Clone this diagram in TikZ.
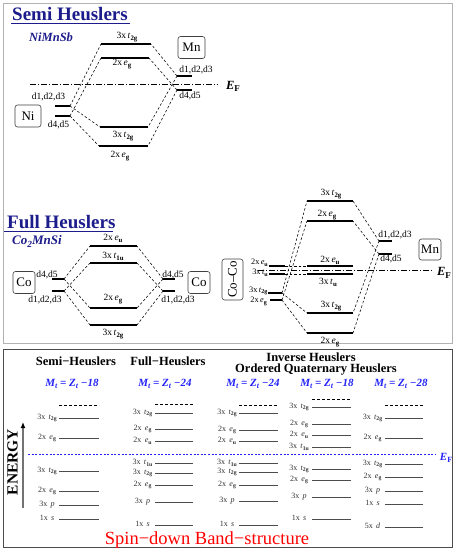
\documentclass[tikz,border=0pt]{standalone}
\usepackage{fontspec}
\setmainfont{Liberation Serif}
\usetikzlibrary{arrows.meta}
\definecolor{navy}{RGB}{28,28,140}
\definecolor{fblue}{RGB}{35,35,250}
\newcommand\fsz[1]{\fontsize{#1}{#1}\selectfont}
\newcommand\sbs[1]{\raisebox{-0.45ex}{\scalebox{0.72}{\bfseries #1}}}
\newcommand\lvlab[3]{#1x\,\textit{#2}\sbs{#3}}
\newcommand\blab[3]{#1x\ \,\textit{#2}\sbs{#3}}
\newcommand\EF{\textbf{\textit{E}}\sbs{F}}
\newcommand\lv[5][lev]{\coordinate (#2-l) at (#3,#5); \coordinate (#2-r) at (#4,#5); \draw[#1] (#2-l) -- (#2-r);}
\newcommand\blv[6]{\coordinate (#1-l) at (#2,#4); \coordinate (#1-r) at (#3,#4); \draw[blev] (#1-l) -- (#1-r); \node[blbl] (#1-t) at (#5,#4) {#6};}
\begin{document}
\begin{tikzpicture}[x=1pt,y=-1pt,
  lev/.style={line width=1.3pt},
  con/.style={dash pattern=on 2.5pt off 2pt, line width=0.55pt},
  efl/.style={dash pattern=on 6pt off 2pt on 1pt off 2pt, line width=0.55pt},
  elbox/.style={draw=black!75, rounded corners=2.5pt, line width=0.6pt, font=\fsz{13}, inner sep=0pt},
  lbl/.style={font=\fsz{9.5}, inner sep=0pt},
  sml/.style={font=\fsz{8.3}, inner sep=0pt, anchor=east},
  blev/.style={line width=0.9pt, black!70},
  bdash/.style={line width=0.9pt, dash pattern=on 3pt off 2pt},
  blbl/.style={font=\fsz{8}, text=black!80, inner sep=0pt},
  headtxt/.style={font=\fsz{12.5}\bfseries, inner sep=0pt},
  formtxt/.style={font=\fsz{11}\bfseries\itshape, text=fblue, inner sep=0pt},
]
\useasboundingbox (0,0) rectangle (456,550);
\fill[white] (0,0) rectangle (456,550);
% ===== top frame =====
\draw[black!30, line width=0.9pt] (3,3) rectangle (452,343);

% ----- Semi Heuslers -----
\node[anchor=base west, font=\fsz{19}\bfseries, text=navy, inner sep=0pt] (semi) at (12,20.5) {Semi Heuslers};
\draw[navy, line width=1.3pt] (11,23.5) -- (130,23.5);
\node[anchor=base west, font=\fsz{12.5}\bfseries\itshape, text=navy, inner sep=0pt] (nimnsb) at (29,41) {NiMnSb};

\node[elbox, minimum width=26pt, minimum height=22pt] (ni) at (28,116) {Ni};
\node[elbox, minimum width=27pt, minimum height=22pt] (mn) at (191.5,47.5) {Mn};

\lv{niA}{55}{70}{106}
\lv{niB}{55}{70}{116}
\lv{sT1}{101}{151}{44}
\lv{sE1}{101}{149}{58}
\lv{sT2}{100}{148}{127}
\lv{sE2}{99}{148}{146}
\lv{mnA}{177}{192}{76}
\lv{mnB}{177}{192}{90}

\draw[con] (niA-r) -- (sT1-l);
\draw[con] (niB-r) -- (sE1-l);
\draw[con] (niA-r) -- (sT2-l);
\draw[con] (niB-r) -- (sE2-l);
\draw[con] (mnA-l) -- (sT1-r);
\draw[con] (mnB-l) -- (sE1-r);
\draw[con] (mnA-l) -- (sT2-r);
\draw[con] (mnB-l) -- (sE2-r);

\coordinate (ef1a) at (30,84);
\coordinate (ef1b) at (218,84);
\draw[efl] (ef1a) -- (ef1b);
\node[font=\fsz{12.5}, inner sep=0pt] (ef1) at (233,86.5) {\EF};

\node[lbl] (lniA) at (48.5,97) {d1,d2,d3};
\node[lbl] (lniB) at (58.5,125) {d4,d5};
\node[lbl] (lsT1) at (127,37) {\lvlab{3}{t}{2g}};
\node[lbl] (lsE1) at (122,64) {\lvlab{2}{e}{g}};
\node[lbl] (lsT2) at (123,136) {\lvlab{3}{t}{2g}};
\node[lbl] (lsE2) at (120,156) {\lvlab{2}{e}{g}};
\node[lbl] (lmnA) at (196,70) {d1,d2,d3};
\node[lbl] (lmnB) at (190,96) {d4,d5};

% ----- Full Heuslers -----
\node[anchor=base west, font=\fsz{19}\bfseries, text=navy, inner sep=0pt] (full) at (7,228) {Full Heuslers};
\draw[navy, line width=1.3pt] (4,231.5) -- (113,231.5);
\node[anchor=base west, font=\fsz{13}\bfseries\itshape, text=navy, inner sep=0pt] (co2mnsi) at (12,244.5) {Co\sbs{2}MnSi};

\node[elbox, minimum width=22pt, minimum height=22pt] (coL) at (24,282.5) {Co};
\node[elbox, minimum width=22pt, minimum height=22pt] (coR) at (199,282.5) {Co};

\lv{cLA}{52}{64}{279}
\lv{cLB}{52}{64}{291}
\lv{fEu}{90}{137}{246}
\lv{fTu}{90}{137}{263}
\lv{fEg}{90}{137}{308}
\lv{fTg}{90}{137}{325}
\lv{cRA}{163}{175}{279}
\lv{cRB}{163}{175}{291}

\draw[con] (cLA-r) -- (fEu-l);
\draw[con] (cLA-r) -- (fEg-l);
\draw[con] (cLB-r) -- (fTu-l);
\draw[con] (cLB-r) -- (fTg-l);
\draw[con] (cRA-l) -- (fEu-r);
\draw[con] (cRA-l) -- (fEg-r);
\draw[con] (cRB-l) -- (fTu-r);
\draw[con] (cRB-l) -- (fTg-r);

\node[lbl] (lfEu) at (113,238) {\lvlab{2}{e}{u}};
\node[lbl] (lfTu) at (113,256) {\lvlab{3}{t}{1u}};
\node[lbl] (lfEg) at (113,299.5) {\lvlab{2}{e}{g}};
\node[lbl] (lfTg) at (113,334.5) {\lvlab{3}{t}{2g}};
\node[lbl] (lcLA) at (47,275) {d4,d5};
\node[lbl] (lcLB) at (45,299.5) {d1,d2,d3};
\node[lbl] (lcRA) at (173,275) {d4,d5};
\node[lbl] (lcRB) at (178,299.5) {d1,d2,d3};

% ----- Co-Co / Mn part -----
\node[elbox, rotate=90, minimum width=41pt, minimum height=21pt] (coco) at (232.5,279.5) {Co–Co};
\node[elbox, minimum width=22pt, minimum height=21pt] (mnR) at (430,249.5) {Mn};

\lv{ccEu}{269}{285}{266}
\lv{ccTu}{269}{285}{274}
\lv{ccTg}{268}{282}{293}
\lv{ccEg}{270}{282}{300}
\lv{rT1}{307}{353}{201}
\lv{rE1}{307}{353}{221}
\lv{rEu}{307}{353}{266}
\lv{rTu}{307}{353}{274}
\lv{rT2}{307}{353}{313}
\lv{rE2}{307}{353}{333}
\lv{mnRA}{379}{392}{241}
\lv{mnRB}{379}{392}{254}

\draw[con] (ccTg-r) -- (rT1-l);
\draw[con] (ccEg-r) -- (rE1-l);
\draw[con] (ccTg-r) -- (rT2-l);
\draw[con] (ccEg-r) -- (rE2-l);
\draw[con] (ccEu-r) -- (rEu-l);
\draw[con] (ccTu-r) -- (rTu-l);
\draw[con] (mnRA-l) -- (rT1-r);
\draw[con] (mnRB-l) -- (rE1-r);
\draw[con] (mnRA-l) -- (rT2-r);
\draw[con] (mnRB-l) -- (rE2-r);

\coordinate (ef2a) at (258,270);
\coordinate (ef2b) at (432,270);
\draw[efl] (ef2a) -- (ef2b);
\node[font=\fsz{12.5}, inner sep=0pt] (ef2) at (444,273) {\EF};

\node[lbl] (lrT1) at (331,194) {\lvlab{3}{t}{2g}};
\node[lbl] (lrE1) at (327,215) {\lvlab{2}{e}{g}};
\node[lbl] (lrEu) at (330,260) {\lvlab{2}{e}{u}};
\node[lbl] (lrTu) at (328,282) {\lvlab{3}{t}{u}};
\node[lbl] (lrT2) at (331,306) {\lvlab{3}{t}{2g}};
\node[lbl] (lrE2) at (330,342) {\lvlab{2}{e}{g}};
\node[sml] (lccEu) at (268,262.5) {\lvlab{2}{e}{u}};
\node[sml] (lccTu) at (268,273) {\lvlab{3}{t}{u}};
\node[sml] (lccTg) at (267.5,291) {\lvlab{3}{t}{2g}};
\node[sml] (lccEg) at (267,301.5) {\lvlab{2}{e}{g}};
\node[lbl] (lmnRA) at (395,235) {d1,d2,d3};
\node[lbl] (lmnRB) at (391,259) {d4,d5};

% ===== bottom box =====
\draw[black!70, line width=0.9pt] (3,349) rectangle (452,547);

\node[headtxt] (h1) at (76,361) {Semi−Heuslers};
\node[headtxt] (h2) at (168,361) {Full−Heuslers};
\node[headtxt] (h3) at (311,357) {Inverse Heuslers};
\node[headtxt] (h4) at (316,369.5) {Ordered Quaternary Heuslers};

\node[formtxt] (f1) at (72,384) {M\sbs{t} = Z\sbs{t} −18};
\node[formtxt] (f2) at (165,384) {M\sbs{t} = Z\sbs{t} −24};
\node[formtxt] (f3) at (253,384) {M\sbs{t} = Z\sbs{t} −24};
\node[formtxt] (f4) at (327,384) {M\sbs{t} = Z\sbs{t} −18};
\node[formtxt] (f5) at (401,384) {M\sbs{t} = Z\sbs{t} −28};

% column 1
\coordinate (d1-l) at (59,405); \coordinate (d1-r) at (99,405);
\draw[bdash] (d1-l) -- (d1-r);
\blv{a1}{59}{99}{418}{47}{\blab{3}{t}{2g}}
\blv{a2}{59}{99}{438}{47}{\blab{2}{e}{g}}
\blv{a3}{59}{99}{471}{47}{\blab{3}{t}{2g}}
\blv{a4}{59}{99}{491}{47}{\blab{2}{e}{g}}
\blv{a5}{59}{99}{505}{47}{\blab{3}{p}{}}
\blv{a6}{59}{99}{519}{47}{\blab{1}{s}{}}
% column 2
\coordinate (d2-l) at (155,404); \coordinate (d2-r) at (193,404);
\draw[bdash] (d2-l) -- (d2-r);
\blv{b1}{155}{193}{413}{142.5}{\blab{3}{t}{2g}}
\blv{b2}{155}{193}{429}{142.5}{\blab{2}{e}{g}}
\blv{b3}{155}{193}{441}{142.5}{\blab{2}{e}{u}}
\blv{b4}{155}{193}{463}{142.5}{\blab{3}{t}{1u}}
\blv{b5}{155}{193}{473}{142.5}{\blab{3}{t}{2g}}
\blv{b6}{155}{193}{485}{142.5}{\blab{2}{e}{g}}
\blv{b7}{155}{193}{502}{142.5}{\blab{3}{p}{}}
\blv{b8}{155}{193}{525}{142.5}{\blab{1}{s}{}}
% column 3
\coordinate (d3-l) at (239,405); \coordinate (d3-r) at (278,405);
\draw[bdash] (d3-l) -- (d3-r);
\blv{c1}{239}{278}{413}{227}{\blab{3}{t}{2g}}
\blv{c2}{239}{278}{430}{227}{\blab{2}{e}{g}}
\blv{c3}{239}{278}{441}{227}{\blab{2}{e}{u}}
\blv{c4}{239}{278}{463}{227}{\blab{3}{t}{1u}}
\blv{c5}{239}{278}{472}{227}{\blab{3}{t}{2g}}
\blv{c6}{239}{278}{485}{227}{\blab{2}{e}{g}}
\blv{c7}{239}{278}{501}{227}{\blab{3}{p}{}}
\blv{c8}{239}{278}{525}{227}{\blab{1}{s}{}}
% column 4
\coordinate (d4-l) at (312,399); \coordinate (d4-r) at (351,399);
\draw[bdash] (d4-l) -- (d4-r);
\blv{e1}{312}{351}{407}{299}{\blab{3}{t}{2g}}
\blv{e2}{312}{351}{424}{299}{\blab{2}{e}{g}}
\blv{e3}{312}{351}{435}{299}{\blab{2}{e}{u}}
\blv{e4}{312}{351}{447}{299}{\blab{3}{t}{1u}}
\blv{e5}{312}{351}{469}{299}{\blab{3}{t}{2g}}
\blv{e6}{312}{351}{480}{299}{\blab{2}{e}{g}}
\blv{e7}{312}{351}{497}{299}{\blab{3}{p}{}}
\blv{e8}{312}{351}{519}{299}{\blab{1}{s}{}}
% column 5
\coordinate (d5-l) at (385,405); \coordinate (d5-r) at (423,405);
\draw[bdash] (d5-l) -- (d5-r);
\blv{g1}{385}{423}{418}{372.5}{\blab{3}{t}{2g}}
\blv{g2}{385}{423}{438}{372.5}{\blab{2}{e}{g}}
\blv{g3}{385}{423}{464}{372.5}{\blab{3}{t}{2g}}
\blv{g4}{385}{423}{477}{372.5}{\blab{2}{e}{g}}
\blv{g5}{385}{423}{491}{372.5}{\blab{3}{p}{}}
\blv{g6}{385}{423}{504}{372.5}{\blab{1}{s}{}}
\blv{g7}{385}{423}{527}{372.5}{\blab{5}{d}{}}

% Fermi level (bottom)
\coordinate (ef3a) at (28,454);
\coordinate (ef3b) at (436,454);
\draw[fblue, line width=0.9pt, dash pattern=on 2pt off 1.6pt] (ef3a) -- (ef3b);
\node[font=\fsz{11}, text=fblue, inner sep=0pt] (ef3) at (446,458) {\EF};

% energy axis
\node[rotate=90, font=\fsz{15.5}\bfseries, inner sep=0pt] (energy) at (12.5,462) {ENERGY};
\coordinate (ea) at (23,508);
\coordinate (eb) at (23,422);
\draw[black!55, line width=1.3pt, -{Latex[length=6pt,width=5pt,black]}] (ea) -- (eb);

\node[anchor=base, font=\fsz{18.5}, text=red, inner sep=0pt] (spin) at (207,544.5) {Spin−down Band−structure};
\end{tikzpicture}
\end{document}
